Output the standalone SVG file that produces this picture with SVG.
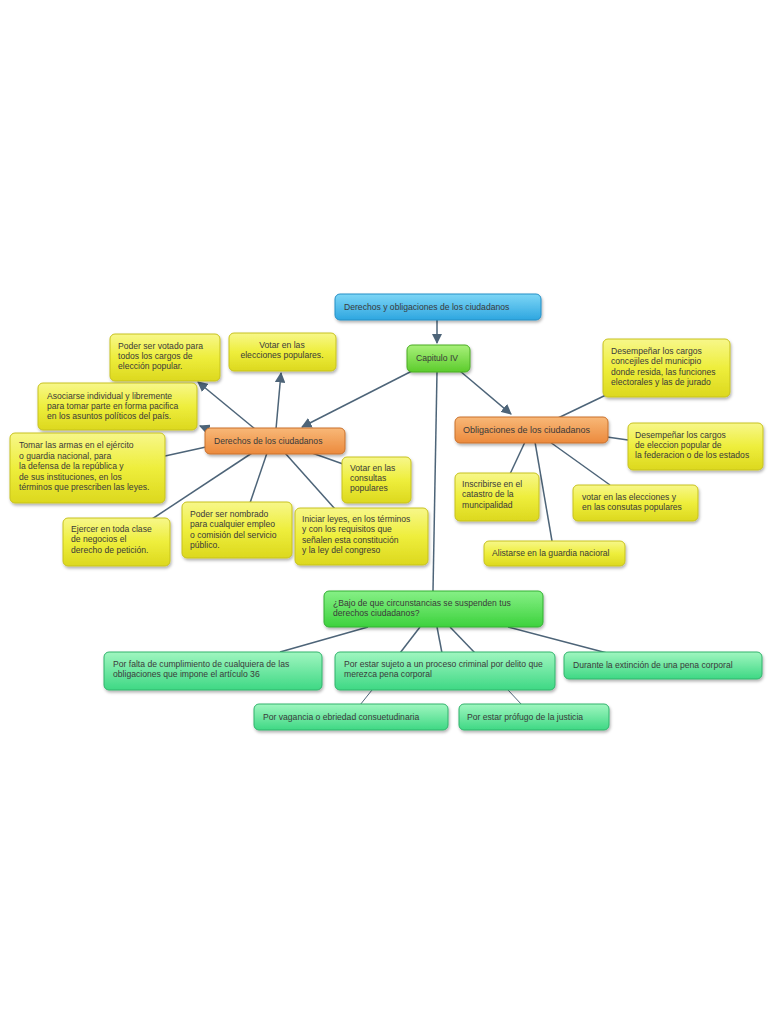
<svg xmlns="http://www.w3.org/2000/svg" width="768" height="1024" viewBox="0 0 768 1024">
<defs>
<linearGradient id="gy" x1="0" y1="0" x2="0" y2="1"><stop offset="0" stop-color="#f7f78a"/><stop offset="0.5" stop-color="#eeee3c"/><stop offset="1" stop-color="#dcd81e"/></linearGradient>
<linearGradient id="go" x1="0" y1="0" x2="0" y2="1"><stop offset="0" stop-color="#f8b878"/><stop offset="1" stop-color="#ec8a3c"/></linearGradient>
<linearGradient id="gb" x1="0" y1="0" x2="0" y2="1"><stop offset="0" stop-color="#7dd6f6"/><stop offset="1" stop-color="#2ea6e0"/></linearGradient>
<linearGradient id="gl" x1="0" y1="0" x2="0" y2="1"><stop offset="0" stop-color="#a8f07a"/><stop offset="1" stop-color="#5ccc2c"/></linearGradient>
<linearGradient id="gq" x1="0" y1="0" x2="0" y2="1"><stop offset="0" stop-color="#86f086"/><stop offset="1" stop-color="#3dd23d"/></linearGradient>
<linearGradient id="gm" x1="0" y1="0" x2="0" y2="1"><stop offset="0" stop-color="#a0f6c0"/><stop offset="1" stop-color="#3ed884"/></linearGradient>
<filter id="sh" x="-10%" y="-20%" width="130%" height="150%"><feDropShadow dx="1" dy="2" stdDeviation="1.5" flood-color="#000" flood-opacity="0.3"/></filter>
<marker id="ar" viewBox="0 0 10 10" refX="9" refY="5" markerWidth="7" markerHeight="7" orient="auto"><path d="M0,0 L10,5 L0,10 z" fill="#4d6478"/></marker>
</defs>
<style>
text{font-family:"Liberation Sans",Arial,sans-serif;font-size:8.6px;fill:#3a3a3a}
.y{fill:url(#gy);stroke:#c7c21e;stroke-width:1}
.o{fill:url(#go);stroke:#c9702c;stroke-width:1}
.b{fill:url(#gb);stroke:#2790c6;stroke-width:1}
.l{fill:url(#gl);stroke:#4aac24;stroke-width:1}
.q{fill:url(#gq);stroke:#32b032;stroke-width:1}
.m{fill:url(#gm);stroke:#30b46c;stroke-width:1}
rect{filter:url(#sh)}
.c{stroke:#4d6478;stroke-width:1.5;fill:none}
.a{stroke:#4d6478;stroke-width:1.5;fill:none;marker-end:url(#ar)}
</style>
<rect width="768" height="1024" fill="#ffffff" style="filter:none"/>
<g id="connectors">
<line class="a" x1="437" y1="320" x2="437" y2="343"/>
<line class="a" x1="412" y1="371" x2="302" y2="427"/>
<line class="a" x1="460" y1="371" x2="511" y2="414"/>
<line class="c" x1="437" y1="372" x2="433" y2="591"/>
<line class="a" x1="255" y1="429" x2="198" y2="382"/>
<line class="a" x1="276" y1="429" x2="281" y2="373"/>
<line class="a" x1="210" y1="430" x2="200" y2="426"/>
<line class="c" x1="206" y1="447" x2="165" y2="456"/>
<line class="c" x1="252" y1="453" x2="152" y2="519"/>
<line class="c" x1="267" y1="453" x2="250" y2="503"/>
<line class="c" x1="285" y1="453" x2="335" y2="509"/>
<line class="c" x1="312" y1="453" x2="343" y2="464"/>
<line class="c" x1="558" y1="418" x2="606" y2="395"/>
<line class="c" x1="607" y1="437" x2="628" y2="440"/>
<line class="c" x1="525" y1="442" x2="510" y2="474"/>
<line class="c" x1="535" y1="442" x2="552" y2="541"/>
<line class="c" x1="550" y1="442" x2="610" y2="485"/>
<line class="c" x1="368" y1="627" x2="280" y2="652"/>
<line class="c" x1="420" y1="627" x2="400" y2="653"/>
<line class="c" x1="437" y1="627" x2="442" y2="653"/>
<line class="c" x1="450" y1="627" x2="475" y2="653"/>
<line class="c" x1="508" y1="627" x2="607" y2="653"/>
<line class="c" x1="372" y1="690" x2="360" y2="705" style="stroke-width:1"/>
<line class="c" x1="508" y1="690" x2="522" y2="705" style="stroke-width:1"/>
</g>
<g id="n-root"><rect class="b" x="335" y="294" width="206" height="26" rx="5"/><text x="344" y="310">Derechos y obligaciones de los ciudadanos</text></g>
<g id="n-cap"><rect class="l" x="407" y="345" width="63" height="27" rx="5"/><text x="416" y="361">Capitulo IV</text></g>
<g id="n-votado"><rect class="y" x="110" y="334" width="110" height="47" rx="5"/><text x="118" y="349">Poder ser votado para</text><text x="118" y="359">todos los cargos de</text><text x="118" y="369">elección popular.</text></g>
<g id="n-votar"><rect class="y" x="229" y="333" width="107" height="38" rx="5"/><text x="282" y="348" text-anchor="middle">Votar en las</text><text x="282" y="358" text-anchor="middle">elecciones populares.</text></g>
<g id="n-asociarse"><rect class="y" x="38" y="383" width="159" height="47" rx="5"/><text x="47" y="399">Asociarse individual y libremente</text><text x="47" y="409">para tomar parte en forma pacifica</text><text x="47" y="419">en los asuntos políticos del país.</text></g>
<g id="n-derechos"><rect class="o" x="205" y="428" width="140" height="26" rx="5"/><text x="214" y="444">Derechos de los ciudadanos</text></g>
<g id="n-armas"><rect class="y" x="10" y="433" width="155" height="70" rx="5"/><text x="19" y="448">Tomar las armas en el ejército</text><text x="19" y="459">o guardia nacional, para</text><text x="19" y="469">la defensa de la república y</text><text x="19" y="480">de sus instituciones, en los</text><text x="19" y="490">términos que prescriben las leyes.</text></g>
<g id="n-consultas"><rect class="y" x="342" y="457" width="69" height="46" rx="5"/><text x="350" y="471">Votar en las</text><text x="350" y="481">consultas</text><text x="350" y="491">populares</text></g>
<g id="n-ejercer"><rect class="y" x="63" y="518" width="107" height="48" rx="5"/><text x="71" y="532"> Ejercer en toda clase</text><text x="71" y="542">de negocios el</text><text x="71" y="553">derecho de petición.</text></g>
<g id="n-nombrado"><rect class="y" x="182" y="502" width="110" height="56" rx="5"/><text x="190" y="517">Poder ser nombrado</text><text x="190" y="527">para cualquier empleo</text><text x="190" y="538">o comisión del servicio</text><text x="190" y="548"> público.</text></g>
<g id="n-iniciar"><rect class="y" x="295" y="508" width="133" height="57" rx="5"/><text x="302" y="522">Iniciar leyes, en los términos</text><text x="302" y="532">y con los requisitos que</text><text x="302" y="543"> señalen esta constitución</text><text x="302" y="553">y la ley del congreso</text></g>
<g id="n-obligaciones"><rect class="o" x="455" y="417" width="153" height="26" rx="5"/><text x="463" y="433" style="font-size:9px">Obligaciones de los ciudadanos</text></g>
<g id="n-concejiles"><rect class="y" x="603" y="339" width="127" height="58" rx="5"/><text x="611" y="354">Desempeñar los cargos</text><text x="611" y="364">concejiles del municipio</text><text x="611" y="375">donde resida, las funciones</text><text x="611" y="385">electorales y las de jurado</text></g>
<g id="n-eleccion"><rect class="y" x="628" y="423" width="135" height="47" rx="5"/><text x="635" y="438">Desempeñar los cargos</text><text x="635" y="448">de eleccion popular de</text><text x="635" y="458">la federacion o de los estados</text></g>
<g id="n-inscribirse"><rect class="y" x="455" y="473" width="84" height="48" rx="5"/><text x="462" y="487">Inscribirse en el</text><text x="462" y="497">catastro de la</text><text x="462" y="508">muncipalidad</text></g>
<g id="n-votarelec"><rect class="y" x="573" y="485" width="125" height="36" rx="5"/><text x="582" y="500">votar en las elecciones y</text><text x="582" y="510">en las consutas populares</text></g>
<g id="n-alistarse"><rect class="y" x="484" y="541" width="141" height="25" rx="5"/><text x="492" y="556">Alistarse en la guardia nacioral</text></g>
<g id="n-bajo"><rect class="q" x="324" y="591" width="219" height="36" rx="5"/><text x="333" y="606">¿Bajo de que circunstancias se suspenden tus</text><text x="333" y="616">derechos ciudadanos?</text></g>
<g id="n-falta"><rect class="m" x="104" y="652" width="218" height="38" rx="5"/><text x="113" y="667">Por falta de cumplimiento de cualquiera de las</text><text x="113" y="677">obligaciones que impone el artículo 36</text></g>
<g id="n-sujeto"><rect class="m" x="335" y="652" width="220" height="38" rx="5"/><text x="344" y="667">Por estar sujeto a un proceso criminal por delito que</text><text x="344" y="677">merezca pena corporal</text></g>
<g id="n-durante"><rect class="m" x="564" y="652" width="198" height="27" rx="5"/><text x="573" y="668">Durante la extinción de una pena corporal</text></g>
<g id="n-vagancia"><rect class="m" x="254" y="704" width="194" height="26" rx="5"/><text x="263" y="720">Por vagancia o ebriedad consuetudinaria</text></g>
<g id="n-profugo"><rect class="m" x="459" y="704" width="150" height="26" rx="5"/><text x="467" y="720">Por estar prófugo de la justicia</text></g>
</svg>
